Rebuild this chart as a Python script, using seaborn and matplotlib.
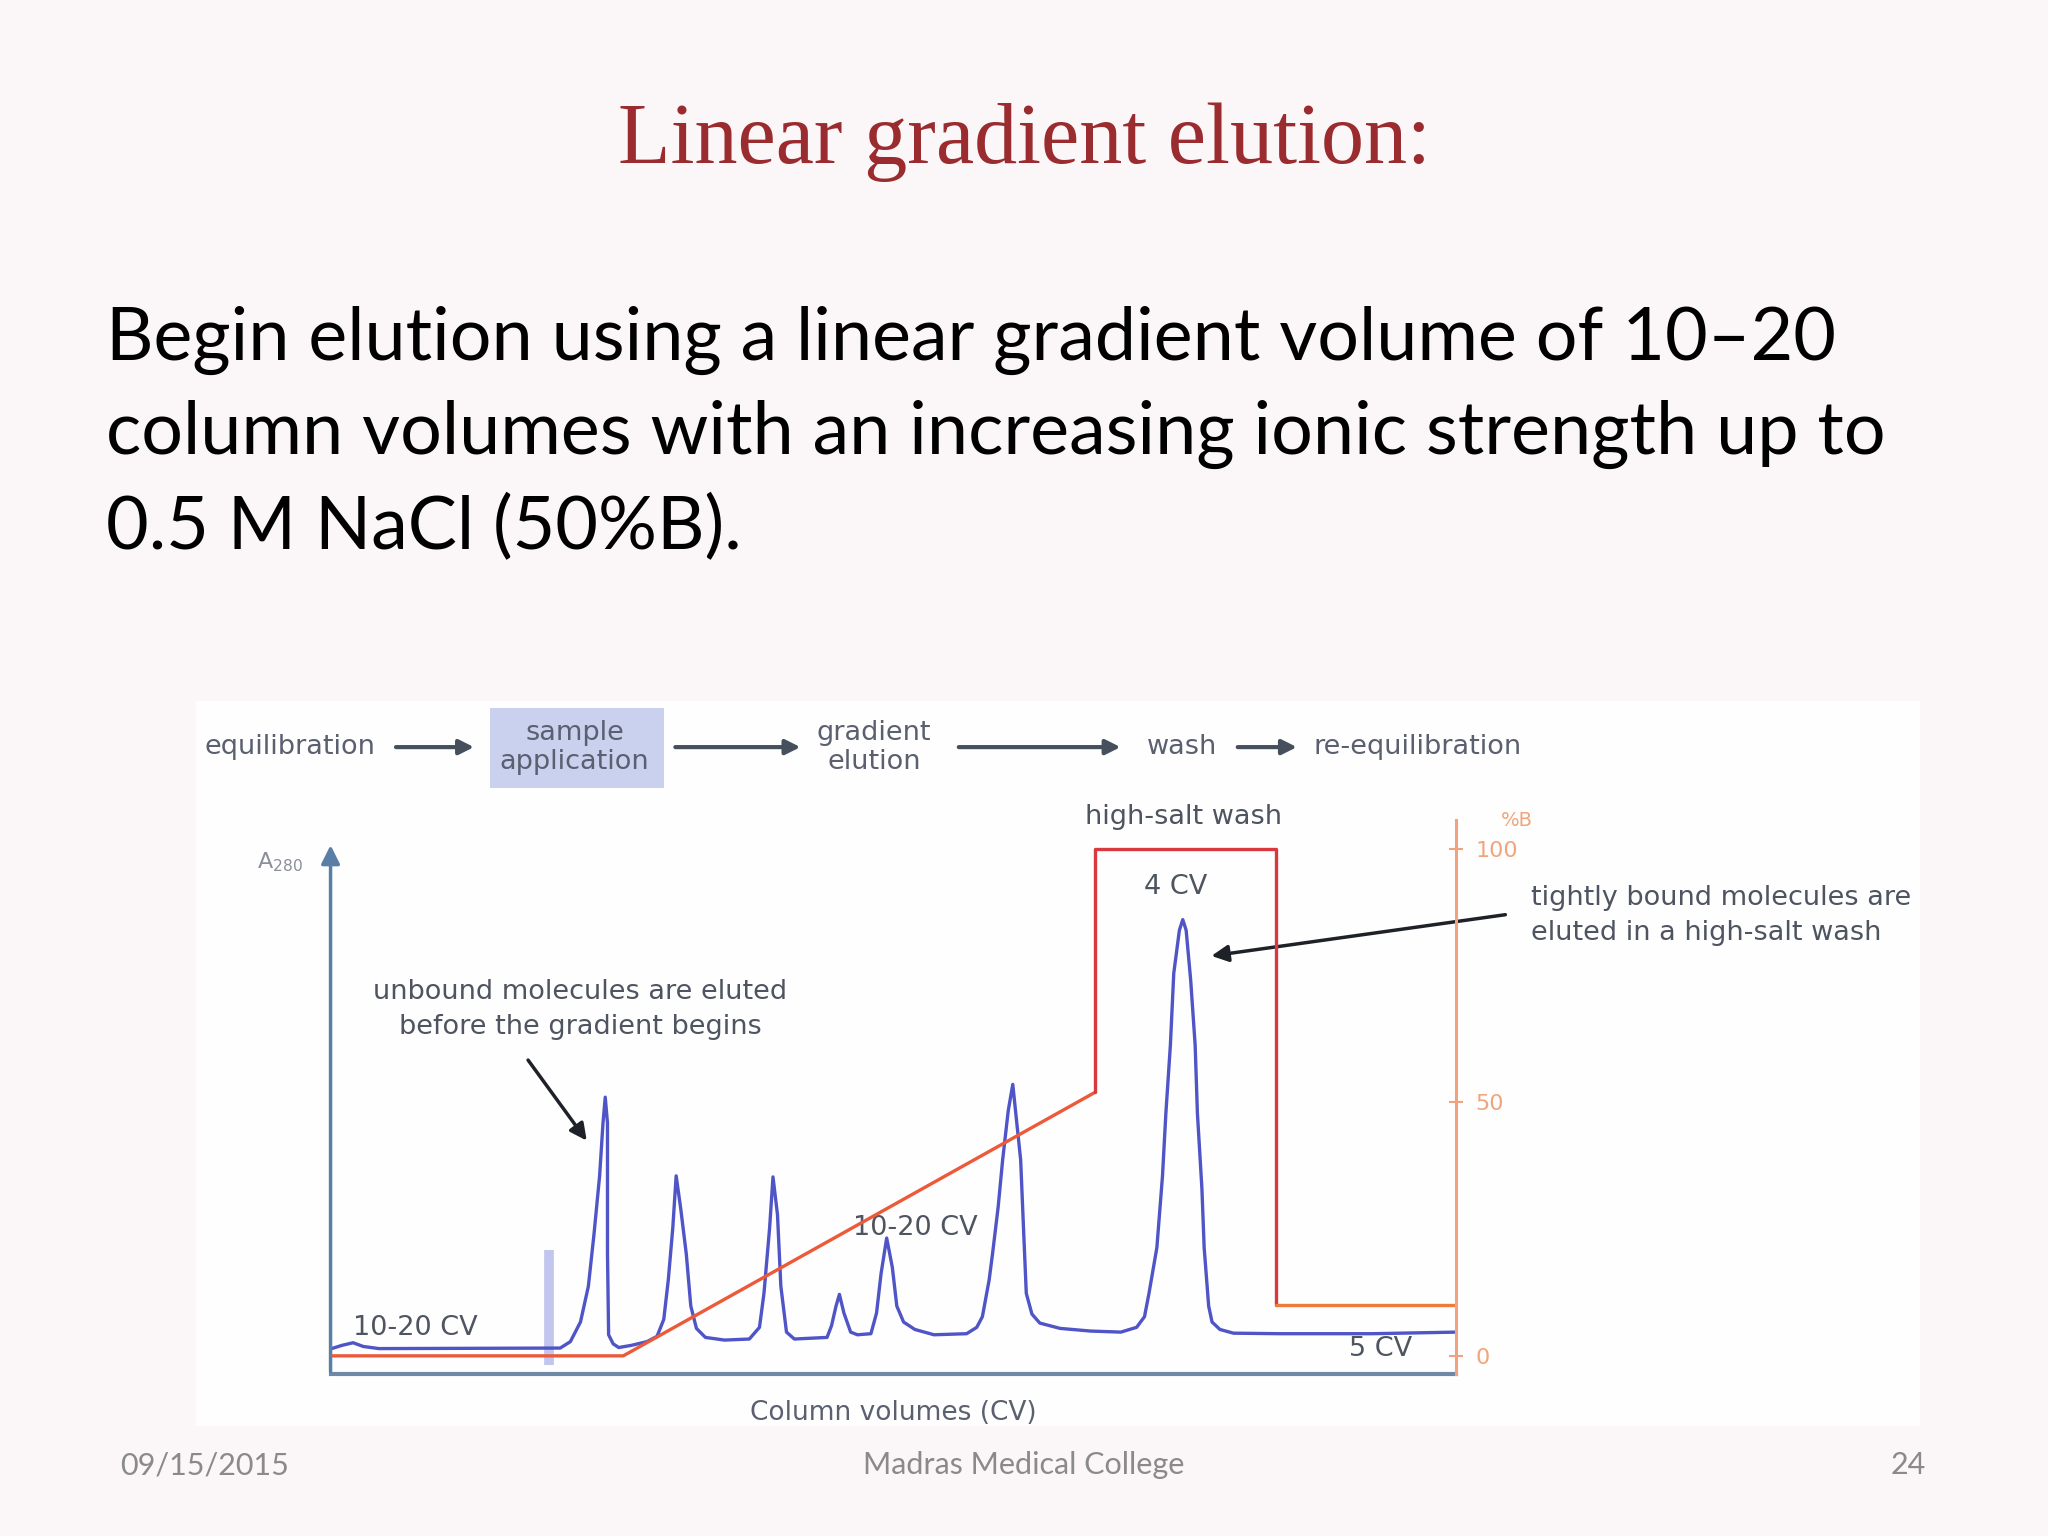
import matplotlib
matplotlib.use("Agg")
import matplotlib.pyplot as plt
from matplotlib.patches import Rectangle, FancyArrowPatch
import seaborn as sns
import pandas as pd

# --- chromatogram (A280, arbitrary units) ---
cv = [0.1, 1.0, 2.0, 2.9, 4.3, 20.4, 21.3, 22.2, 22.9, 23.4, 23.9, 24.2, 24.4,
      24.6, 24.6, 24.7, 25.1, 25.6, 26.7, 28.1, 29.0, 29.6, 30.0, 30.4, 30.7,
      31.1, 31.6, 32.0, 32.5, 33.3, 35.0, 37.2, 38.1, 38.5, 39.0, 39.3, 39.7,
      40.0, 40.5, 41.2, 44.1, 44.5, 44.9, 45.2, 45.6, 46.2, 46.8, 48.0, 48.5,
      48.9, 49.4, 49.9, 50.3, 50.9, 51.9, 53.6, 56.5, 57.4, 57.9, 58.5, 58.8,
      59.3, 59.7, 60.2, 60.6, 60.9, 61.3, 61.6, 61.8, 62.3, 63.0, 64.8, 67.5,
      70.2, 71.6, 72.3, 72.7, 73.4, 73.9, 74.2, 74.6, 74.9, 75.4, 75.7, 76.0,
      76.4, 76.8, 77.0, 77.4, 77.6, 78.0, 78.3, 79.0, 80.2, 84.3, 92.5, 100.0]
a280 = [48, 54, 59, 52, 48, 49, 61, 98, 165, 263, 373, 472, 521,
        472, 226, 74, 57, 50, 54, 61, 71, 103, 177, 275, 373,
        312, 226, 128, 86, 69, 64, 66, 88, 152, 275, 371, 300,
        165, 79, 66, 69, 91, 128, 150, 115, 79, 74, 76, 115,
        189, 256, 201, 128, 98, 84, 74, 76, 88, 108, 177, 226,
        314, 403, 496, 545, 484, 403, 251, 152, 113, 96, 86, 81,
        79, 88, 108, 152, 238, 373, 491, 619, 754, 835, 855, 835,
        742, 619, 491, 349, 238, 128, 98, 84, 77, 76, 76, 79]

# --- salt gradient (%B) ---
grad_cv = [0.0, 26.0, 67.9, 67.9, 84.0, 84.0, 100.0]
grad_b = [0, 0, 52, 100, 100, 10, 10]

# sample application marker
sample_cv = 19.4
sample_lo, sample_hi = 17, 233

# phase labels across the top
phases = ["equilibration", "sample\napplication", "gradient\nelution", "wash", "re-equilibration"]

title = "Linear gradient elution:"
body = ["Begin elution using a linear gradient volume of 10\u201320",
        "column volumes with an increasing ionic strength up to",
        "0.5 M NaCl (50%B)."]

sns.set_theme(style="white")
plt.rcParams["font.family"] = ["DejaVu Sans"]

fig = plt.figure(figsize=(20.48, 15.36), dpi=100)
fig.patch.set_facecolor("#fbf7f8")

# white panel behind the figure
fig.add_artist(Rectangle((0.0957, 0.0714), 0.842, 0.472, transform=fig.transFigure,
                         facecolor="white", edgecolor="none", alpha=0.93, zorder=0))

# slide text
fig.text(0.5, 0.894, title, ha="center", va="baseline", fontsize=62,
         color="#9a2b2e", family=["Liberation Serif", "DejaVu Serif"])
for i, line in enumerate(body):
    fig.text(0.052, 0.766 - i * 0.0617, line, ha="left", va="baseline",
             fontsize=53, color="black", family=["Lato", "DejaVu Sans"])
foot = dict(fontsize=22, color="#8a8a8a", va="center", ha="center",
            family=["Lato", "DejaVu Sans"])
fig.text(0.100, 0.046, "09/15/2015", **foot)
fig.text(0.500, 0.046, "Madras Medical College", **foot)
fig.text(0.932, 0.046, "24", **foot)

# --- chart ---
ax = fig.add_axes([0.1614, 0.1054, 0.5497, 0.3606])
ax.patch.set_alpha(0)
ax2 = ax.twinx()

chrom = pd.DataFrame({"cv": cv, "a280": a280})
grad = pd.DataFrame({"cv": grad_cv, "b": grad_b})

ax.vlines(sample_cv, sample_lo, sample_hi, color="#b4b8ea", lw=7, alpha=0.8, zorder=1)
sns.lineplot(data=chrom, x="cv", y="a280", ax=ax, sort=False, estimator=None,
             color="#4f55c6", lw=2.4, zorder=3)
sns.lineplot(data=grad.iloc[0:3], x="cv", y="b", ax=ax2, sort=False, estimator=None,
             color="#ec5a3a", lw=2.4)
sns.lineplot(data=grad.iloc[2:6], x="cv", y="b", ax=ax2, sort=False, estimator=None,
             color="#d8383e", lw=2.4)
sns.lineplot(data=grad.iloc[5:7], x="cv", y="b", ax=ax2, sort=False, estimator=None,
             color="#f07a38", lw=2.4)

ax.set_xlim(0, 100)
ax.set_ylim(0, 1042)
ax2.set_ylim(-3.6, 105.7)

for a in (ax, ax2):
    a.set_xlabel("")
    a.set_ylabel("")
    a.set_xticks([])
    for side in ("top", "left", "right", "bottom"):
        a.spines[side].set_visible(False)
ax.set_yticks([])
ax.spines["bottom"].set_visible(True)
ax.spines["bottom"].set_color("#7088a8")
ax.spines["bottom"].set_linewidth(3)
ax2.spines["right"].set_visible(True)
ax2.spines["right"].set_color("#f2a27e")
ax2.spines["right"].set_linewidth(2.2)
ax2.set_yticks([0, 50, 100])
ax2.set_yticklabels(["0", "50", "100"])
ax2.tick_params(axis="y", direction="inout", length=10, width=1.5, colors="#f2a27e",
                labelsize=16, labelcolor="#f0a57c", pad=9)

# left axis drawn as an arrow
ax.annotate("", xy=(0, 0.96), xytext=(0, 0), xycoords="axes fraction",
            arrowprops=dict(arrowstyle="-|>", color="#5a7fa6", lw=2.5, mutation_scale=28))
ax.text(-0.045, 0.925, "A$_{280}$", transform=ax.transAxes, ha="center", va="center",
        fontsize=16, color="#8a8f9a")
ax2.text(1.04, 1.0, "%B", transform=ax2.transAxes, ha="left", va="center",
         fontsize=14, color="#f0a57c")
ax.text(0.5, -0.07, "Column volumes (CV)", transform=ax.transAxes, ha="center",
        va="center", fontsize=19, color="#5a6070")

lab = dict(fontsize=19.5, color="#4e5460", ha="center", va="center")
ax.text(7.5, 86, "10-20 CV", **lab)
ax.text(51.9, 275, "10-20 CV", **lab)
ax.text(93.3, 47, "5 CV", **lab)
ax.text(75.1, 916, "4 CV", **lab)
ax.text(75.8, 1049, "high-salt wash", **lab)
ax.text(22.2, 685, "unbound molecules are eluted\nbefore the gradient begins",
        linespacing=1.45, **lab)
ax.text(106.6, 862, "tightly bound molecules are\neluted in a high-salt wash",
        fontsize=19.5, color="#4e5460", ha="left", va="center", linespacing=1.45)
ax.annotate("", xy=(22.9, 435), xytext=(17.4, 595),
            arrowprops=dict(arrowstyle="-|>", color="#1e2228", lw=2.5, mutation_scale=25))
ax.annotate("", xy=(78.0, 786), xytext=(104.6, 865), annotation_clip=False,
            arrowprops=dict(arrowstyle="-|>", color="#1e2228", lw=2.5, mutation_scale=25))

# phase flow across the top
hdr_y = 0.5136
hdr_x = [0.1416, 0.2806, 0.4267, 0.5772, 0.692]
fig.add_artist(Rectangle((0.2392, 0.4872), 0.0848, 0.0518, transform=fig.transFigure,
                         facecolor="#c9d1ee", edgecolor="none", zorder=1))
for x, name in zip(hdr_x, phases):
    fig.text(x, hdr_y, name, ha="center", va="center", fontsize=19.5,
             color="#5a6070", linespacing=1.15, zorder=3)
for x0, x1 in [(0.192, 0.2328), (0.3284, 0.3922), (0.4668, 0.5485), (0.6030, 0.6346)]:
    fig.add_artist(FancyArrowPatch(
        (x0, hdr_y), (x1, hdr_y), transform=fig.transFigure, arrowstyle="-|>",
        mutation_scale=22, color="#46505c", lw=3))

fig.savefig("out.png", dpi=100, facecolor=fig.get_facecolor())
